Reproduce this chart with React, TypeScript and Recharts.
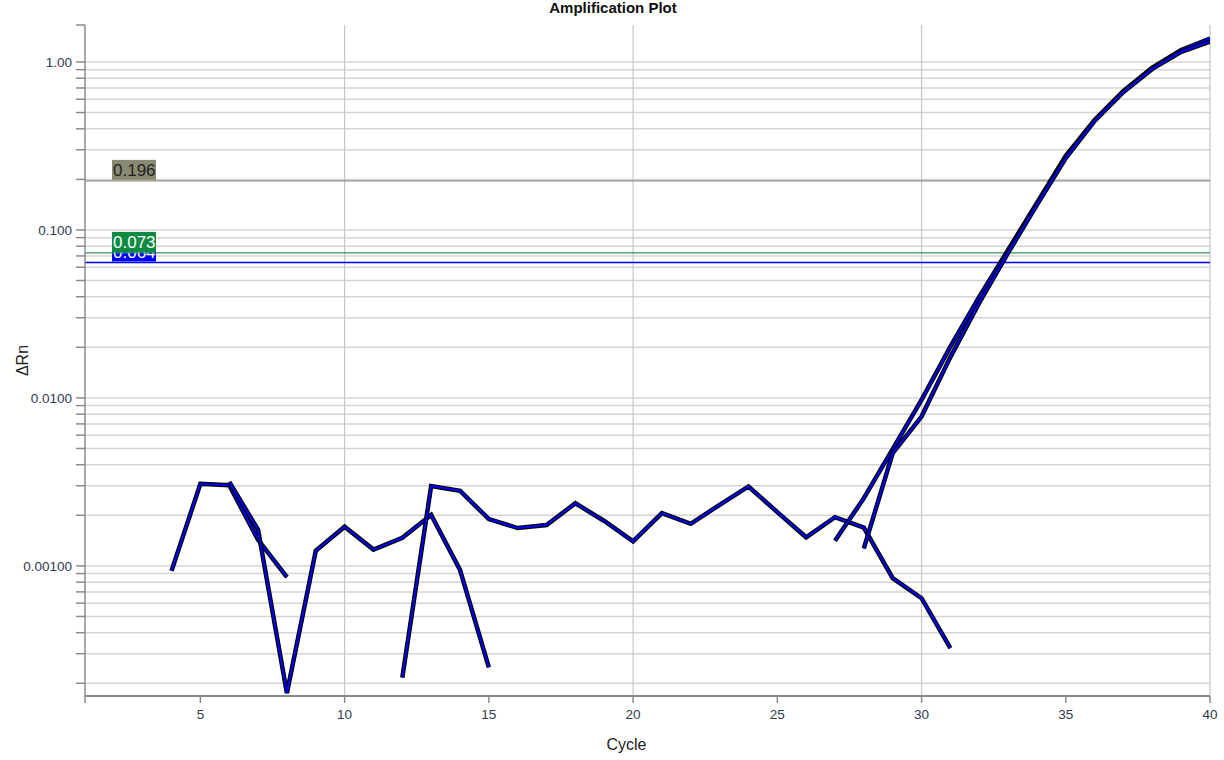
import React from 'react';
import { LineChart, Line, XAxis, YAxis, CartesianGrid, ReferenceLine, Label } from 'recharts';

// ---- data ----
const cycles = [1, 2, 3, 4, 5, 6, 7, 8, 9, 10, 11, 12, 13, 14, 15, 16, 17, 18, 19, 20,
  21, 22, 23, 24, 25, 26, 27, 28, 29, 30, 31, 32, 33, 34, 35, 36, 37, 38, 39, 40];

const wellAStart = 4;
const wellA = [0.000934, 0.00308, 0.00302, 0.00143, 0.000857];

const wellBStart = 6;
const wellB = [0.00316, 0.00164, 0.000175, 0.00123, 0.00171, 0.00125, 0.00147, 0.00201, 0.000947, 0.000249];

const wellCStart = 12;
const wellC = [0.000216, 0.00299, 0.0028, 0.0019, 0.00168, 0.00175, 0.00236, 0.00185, 0.0014, 0.00206,
  0.00178, 0.00231, 0.00297, 0.00209, 0.00148, 0.00195, 0.00169, 0.000845, 0.000642, 0.000324];

const wellDStart = 27;
const wellD = [0.00141, 0.00253, 0.00495, 0.00973, 0.0202, 0.0399, 0.076, 0.145, 0.276, 0.452, 0.672, 0.927, 1.18, 1.38];

const wellEStart = 28;
const wellE = [0.00127, 0.00469, 0.00774, 0.0175, 0.0368, 0.073, 0.141, 0.268, 0.446, 0.663, 0.909, 1.15, 1.32];

const thresholdValues = [0.064, 0.073, 0.196];
const thresholdLabels = ['0.064', '0.073', '0.196'];
const thresholdLineColors = ['#0000ff', '#2f9a55', '#8d8c80'];
const thresholdBoxColors = ['#0000ff', '#0e8a43', '#8a8a72'];
const thresholdTextColors = ['#ffffff', '#ffffff', '#222222'];

const xTicks = [1, 5, 10, 15, 20, 25, 30, 35, 40];
const xTickLabels = ['', '5', '10', '15', '20', '25', '30', '35', '40'];
const xGridValues = [10, 20, 30, 40];

const yDomain = [0.000168, 1.66];
const yGridValues = [
  0.0002, 0.0003, 0.0004, 0.0005, 0.0006, 0.0007, 0.0008, 0.0009,
  0.001, 0.002, 0.003, 0.004, 0.005, 0.006, 0.007, 0.008, 0.009,
  0.01, 0.02, 0.03, 0.04, 0.05, 0.06, 0.07, 0.08, 0.09,
  0.1, 0.2, 0.3, 0.4, 0.5, 0.6, 0.7, 0.8, 0.9,
  1,
];
const yTicks = [...yGridValues, 1.66];
const yMajorTicks = [0.001, 0.01, 0.1, 1];
const yMajorLabels = ['0.00100', '0.0100', '0.100', '1.00'];

const wells = [
  { key: 'wellA', start: wellAStart, values: wellA },
  { key: 'wellB', start: wellBStart, values: wellB },
  { key: 'wellC', start: wellCStart, values: wellC },
  { key: 'wellD', start: wellDStart, values: wellD },
  { key: 'wellE', start: wellEStart, values: wellE },
];

const data = cycles.map((c) => {
  const row: Record<string, number | null> = { cycle: c };
  wells.forEach((w) => {
    const i = c - w.start;
    row[w.key] = i >= 0 && i < w.values.length ? w.values[i] : null;
  });
  return row;
});

const FONT = '"Liberation Sans", Arial, Helvetica, sans-serif';

const formatY = (v: number) => {
  const idx = yMajorTicks.findIndex((m) => Math.abs(m - v) / m < 1e-6);
  return idx >= 0 ? yMajorLabels[idx] : '';
};
const formatX = (v: number) => {
  const idx = xTicks.indexOf(v);
  return idx >= 0 ? xTickLabels[idx] : '';
};

const makeThresholdLabel = (i: number) => (props: any) => {
  const vb = props.viewBox || {};
  const x = (vb.x ?? 0) + 27;
  const y = vb.y ?? 0;
  return (
    <g>
      <rect x={x} y={y - 21} width={44} height={20} fill={thresholdBoxColors[i]} />
      <text x={x + 1} y={y - 4.5} fontSize={17} fontFamily={FONT} fill={thresholdTextColors[i]}>
        {thresholdLabels[i]}
      </text>
    </g>
  );
};

const renderYLabel = (props: any) => {
  const vb = props.viewBox || {};
  const cx = (vb.x ?? 0) + 22;
  const cy = (vb.y ?? 0) + (vb.height ?? 0) / 2;
  return (
    <text
      x={cx}
      y={cy}
      transform={`rotate(-90 ${cx} ${cy})`}
      textAnchor="middle"
      dominantBaseline="central"
      fontSize={16}
      fontFamily={FONT}
      fill="#222"
    >
      ΔRn
    </text>
  );
};

const renderXLabel = (props: any) => {
  const vb = props.viewBox || {};
  const cx = (vb.x ?? 0) + (vb.width ?? 0) / 2 - 21;
  const y = (vb.y ?? 0) + 54;
  return (
    <text x={cx} y={y} textAnchor="middle" fontSize={16} fontFamily={FONT} fill="#222">
      Cycle
    </text>
  );
};

export default function App() {
  return (
    <div style={{ position: 'absolute', left: 0, top: 0, width: 1224, height: 760, background: '#fff' }}>
      <div
        style={{
          position: 'absolute',
          left: 1,
          top: 0,
          width: 1224,
          textAlign: 'center',
          fontFamily: FONT,
          fontWeight: 'bold',
          fontSize: 15,
          lineHeight: '15px',
          color: '#111',
        }}
      >
        Amplification Plot
      </div>
      <LineChart width={1224} height={760} data={data} margin={{ top: 25, right: 14, bottom: 0, left: 0 }}>
        <CartesianGrid
          vertical={false}
          horizontalValues={yGridValues}
          stroke="#d4d4d4"
          strokeWidth={1.5}
          syncWithTicks
        />
        <CartesianGrid
          horizontal={false}
          verticalValues={xGridValues}
          stroke="#c6c6c6"
          strokeWidth={1.2}
          syncWithTicks
        />
        <XAxis
          dataKey="cycle"
          type="number"
          domain={[1, 40]}
          ticks={xTicks}
          interval={0}
          tickFormatter={formatX}
          height={64}
          tickSize={7}
          tickMargin={6}
          axisLine={{ stroke: '#8a8a8a', strokeWidth: 2 }}
          tickLine={{ stroke: '#8a8a8a', strokeWidth: 1.5 }}
          tick={{ fontSize: 13.5, fill: '#2f3b4e', fontFamily: FONT }}
          allowDataOverflow
          label={<Label content={renderXLabel} />}
        />
        <YAxis
          type="number"
          scale="log"
          domain={yDomain}
          ticks={yTicks}
          interval={0}
          tickFormatter={formatY}
          width={85}
          tickSize={9}
          tickMargin={4}
          axisLine={{ stroke: '#8a8a8a', strokeWidth: 1.5 }}
          tickLine={{ stroke: '#8a8a8a', strokeWidth: 1.5 }}
          tick={{ fontSize: 13.5, fill: '#2f3b4e', fontFamily: FONT }}
          allowDataOverflow
          label={<Label content={renderYLabel} />}
        />
        {thresholdValues.map((v, i) => (
          <ReferenceLine
            key={`th-${i}`}
            y={v}
            stroke={thresholdLineColors[i]}
            strokeWidth={1.4}
            ifOverflow="hidden"
            label={makeThresholdLabel(i)}
          />
        ))}
        {wells.map((w) => [
          <Line
            key={`${w.key}-o`}
            dataKey={w.key}
            stroke="#000000"
            strokeWidth={4.5}
            dot={false}
            activeDot={false}
            isAnimationActive={false}
            connectNulls={false}
          />,
          <Line
            key={`${w.key}-i`}
            dataKey={w.key}
            stroke="#0000ff"
            strokeWidth={2}
            dot={false}
            activeDot={false}
            isAnimationActive={false}
            connectNulls={false}
          />,
        ])}
      </LineChart>
    </div>
  );
}
